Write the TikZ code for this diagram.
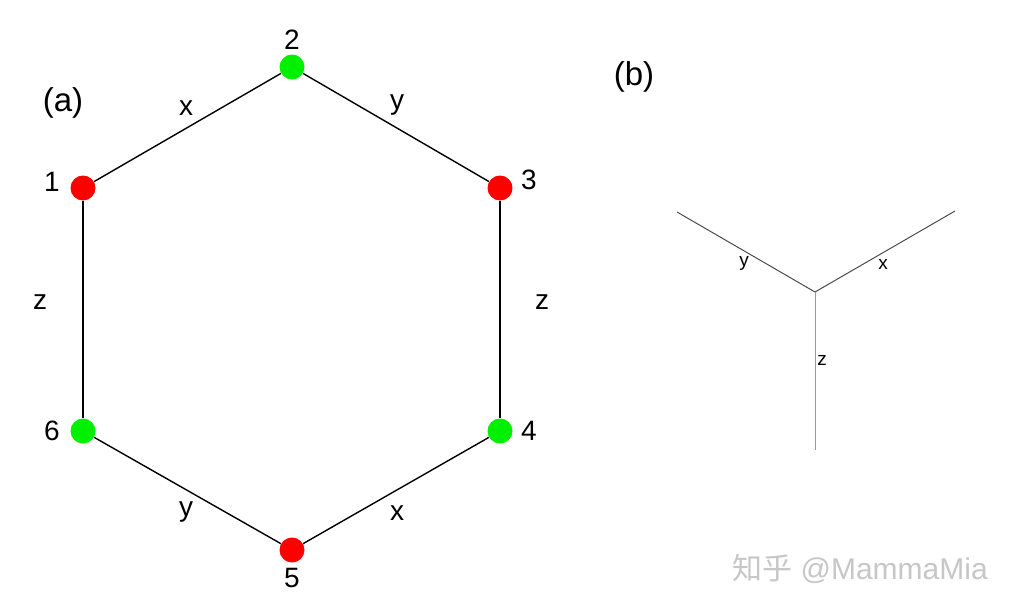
\documentclass[tikz,border=0pt]{standalone}
\usepackage{fontspec}
\setmainfont{Liberation Sans}
\newfontfamily\cjkfont{Noto Sans CJK SC}
\begin{document}
\begin{tikzpicture}[x=1pt,y=-1pt,
  redpt/.style={circle,fill=red,inner sep=0pt,minimum size=25pt},
  greenpt/.style={circle,fill=green!90!black!60!green,inner sep=0pt,minimum size=25pt},
  num/.style={font=\fontsize{28}{30}\selectfont},
  elab/.style={font=\fontsize{28}{30}\selectfont},
  slab/.style={font=\fontsize{19}{21}\selectfont},
  edge/.style={line width=1.4pt,black},
  arm/.style={line width=1pt,black!70}]
\useasboundingbox[fill=white] (0,0) rectangle (1014,610);
% (a) hexagon
\node[redpt] (n1) at (83,188) {};
\node[greenpt] (n2) at (292,67) {};
\node[redpt] (n3) at (500,188) {};
\node[greenpt] (n4) at (500,431) {};
\node[redpt] (n5) at (292,550) {};
\node[greenpt] (n6) at (83,431) {};
\draw[edge] (n1) -- (n2);
\draw[edge] (n2) -- (n3);
\draw[edge] (n3) -- (n4);
\draw[edge] (n4) -- (n5);
\draw[edge] (n5) -- (n6);
\draw[edge] (n6) -- (n1);
\node[num] (l1) at (52,182) {1};
\node[num] (l2) at (292,40) {2};
\node[num] (l3) at (529,180) {3};
\node[num] (l4) at (529,431) {4};
\node[num] (l5) at (292,578) {5};
\node[num] (l6) at (52,431) {6};
\node[elab] (e12) at (186,108) {x};
\node[elab] (e23) at (397,105) {y};
\node[elab] (e16) at (40,302) {z};
\node[elab] (e34) at (542,302) {z};
\node[elab] (e56) at (186,512) {y};
\node[elab] (e45) at (397,513) {x};
\node[font=\fontsize{33}{36}\selectfont] (ta) at (63,103) {(a)};
\node[font=\fontsize{33}{36}\selectfont] (tb) at (634,77) {(b)};
% (b) three arms
\coordinate (c) at (815,292);
\coordinate (ay) at (677,212);
\coordinate (ax) at (955,211);
\coordinate (az) at (815,450);
\draw[arm] (c) -- (ay);
\draw[arm] (c) -- (ax);
\draw[line width=1pt,black!40] (c) -- (az);
\node[slab] (ly) at (744,263) {y};
\node[slab] (lx) at (883,264) {x};
\node[slab] (lz) at (822,360) {z};
% watermark
\node[text=black!22,font=\fontsize{30}{34}\selectfont] (wm) at (860,569) {{\cjkfont 知乎} @MammaMia};
\end{tikzpicture}
\end{document}
